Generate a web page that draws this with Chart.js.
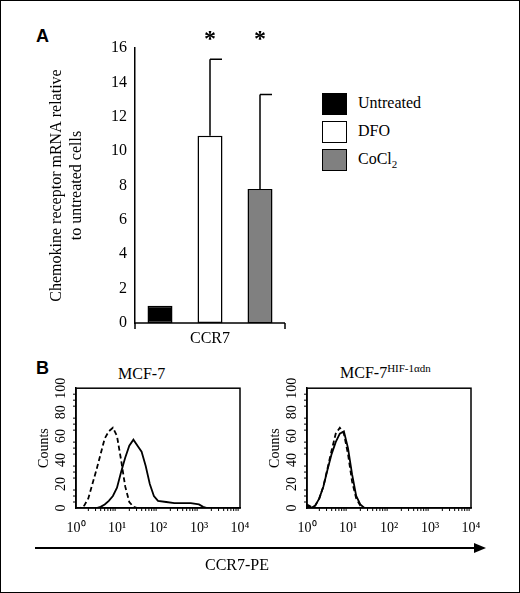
<!DOCTYPE html><html><head><meta charset="utf-8">
<script src="https://cdn.jsdelivr.net/npm/chart.js@4"></script>
<style>
body{margin:0;width:520px;height:593px;position:relative;background:#fff;font-family:"Liberation Serif",serif;overflow:hidden}
.abs{position:absolute}
#frame{left:0;top:0;width:518px;height:591px;border:1px solid #000}
.lg{position:absolute;left:322px;width:25px;height:22px;border:1px solid #000;box-sizing:border-box}
.lt{position:absolute;left:358px;font-size:16px}
</style></head><body>
<div id="frame" class="abs"></div>
<div class="abs" style="left:36px;top:26px;font:bold 18px 'Liberation Sans',Arial">A</div>
<div class="abs" style="left:36px;top:358px;font:bold 18px 'Liberation Sans',Arial">B</div>
<div class="abs" style="left:30px;top:20px;width:265px;height:340px"><canvas id="ca"></canvas></div>
<div class="lg" style="top:93px;background:#000"></div><div class="lt" style="top:94px">Untreated</div>
<div class="lg" style="top:121px;background:#fff"></div><div class="lt" style="top:122px">DFO</div>
<div class="lg" style="top:149px;background:#808080"></div><div class="lt" style="top:150px">CoCl<sub style="font-size:11px">2</sub></div>
<div class="abs" style="left:118px;top:365px;font-size:16px">MCF-7</div>
<div class="abs" style="left:340px;top:362px;font-size:16px">MCF-7<sup style="font-size:11px">HIF-1αdn</sup></div>
<div class="abs" style="left:30px;top:378px;width:220px;height:162px"><canvas id="cb1"></canvas></div>
<div class="abs" style="left:261px;top:378px;width:220px;height:162px"><canvas id="cb2"></canvas></div>
<svg class="abs" style="left:0;top:0" width="520" height="593"><line x1="35" y1="548" x2="478" y2="548" stroke="#000" stroke-width="2"/><polygon points="486,548 474,543 474,553" fill="#000"/></svg>
<div class="abs" style="left:205px;top:556px;font-size:16px">CCR7-PE</div>
<script>
const barLabels=['Untreated','DFO','CoCl2'];
const barValues=[1,10.9,7.8];
const barErrors=[0,4.45,5.5];
const barColors=['#000','#fff','#808080'];
const yTicksA=[0,2,4,6,8,10,12,14,16];
const decades=[0,1,2,3,4];
const histX_mcfCtrl=[0,0.1,0.2,0.3,0.4,0.5,0.6,0.7,0.8,0.9,1.0,1.1,1.2,1.3,1.4,1.5,2.0,3.0,4.0];
const histY_mcfCtrl=[0,0,2,8,20,32,45,58,64,67,60,40,18,5,1,0,0,0,0];
const histX_mcfCCR7=[0,0.5,0.6,0.7,0.8,0.9,1.0,1.1,1.2,1.3,1.4,1.5,1.6,1.7,1.8,1.9,2.0,2.2,2.4,2.6,2.8,3.0,3.1,3.2,4.0];
const histY_mcfCCR7=[0,0,1,3,6,10,17,30,42,52,57,52,47,35,20,10,6,5,4,4,4,3,1,0,0];
const histX_hifCtrl=[0,0.1,0.2,0.3,0.4,0.5,0.6,0.7,0.8,0.9,1.0,1.1,1.2,1.3,1.4,4.0];
const histY_hifCtrl=[3,1,2,8,18,33,48,62,67,62,45,22,8,2,0,0];
const histX_hifCCR7=[0,0.1,0.2,0.3,0.4,0.5,0.6,0.7,0.8,0.9,1.0,1.1,1.2,1.3,1.4,4.0];
const histY_hifCCR7=[2,0,2,8,18,32,45,55,62,64,50,28,10,3,0,0];
const countTicks=[0,20,40,60,80,100];
const FONT="'Liberation Serif',serif";
Chart.defaults.animation=false;Chart.defaults.responsive=true;Chart.defaults.maintainAspectRatio=false;
Chart.defaults.color='#000';

const errPlugin={id:'err',afterDatasetsDraw(c){const ctx=c.ctx,y=c.scales.y,x=c.scales.x;ctx.save();ctx.strokeStyle='#000';ctx.lineWidth=1.5;ctx.fillStyle='#000';ctx.font='bold 24px '+FONT;ctx.textAlign='center';ctx.textBaseline='alphabetic';
barValues.forEach((v,i)=>{if(!barErrors[i])return;const px=x.getPixelForValue(i),top=y.getPixelForValue(v+barErrors[i]);ctx.beginPath();ctx.moveTo(px,y.getPixelForValue(v));ctx.lineTo(px,top);ctx.moveTo(px,top);ctx.lineTo(px+12,top);ctx.stroke();ctx.fillText('*',px,y.top-2);});
ctx.lineWidth=1.5;ctx.beginPath();ctx.moveTo(x.left,y.bottom);ctx.lineTo(x.right,y.bottom);ctx.moveTo(x.left,y.bottom);ctx.lineTo(x.left,y.bottom+6);ctx.moveTo(x.right,y.bottom);ctx.lineTo(x.right,y.bottom+6);ctx.stroke();
ctx.font='16px '+FONT;ctx.textBaseline='top';ctx.fillText('CCR7',(x.left+x.right)/2,y.bottom+8);
ctx.save();ctx.translate(x.left-68,(y.top+y.bottom)/2);ctx.rotate(-Math.PI/2);ctx.textBaseline='middle';ctx.font='16px '+FONT;ctx.fillText('Chemokine receptor mRNA relative',0,-10);ctx.fillText('to untreated cells',0,10);ctx.restore();
ctx.restore();}};
new Chart(document.getElementById('ca'),{type:'bar',data:{labels:barLabels,datasets:[{data:barValues,backgroundColor:barColors,borderColor:'#000',borderWidth:1.5,borderSkipped:false,barPercentage:0.5,categoryPercentage:1}]},
options:{layout:{padding:{top:28,right:10}},plugins:{legend:{display:false},tooltip:{enabled:false}},
scales:{x:{grid:{display:false,drawTicks:false},border:{display:false},ticks:{display:false},afterFit(s){s.height=37}},
y:{min:0,max:16,afterBuildTicks(s){s.ticks=yTicksA.map(v=>({value:v}))},grid:{display:false,drawTicks:true,tickLength:6,tickColor:'#000'},border:{color:'#000',width:1.5},ticks:{font:{family:FONT,size:16},color:'#000',padding:2},afterFit(s){s.width=105}}}},plugins:[errPlugin]});

const sup={0:'⁰',1:'¹',2:'²',3:'³',4:'⁴'};
const histPlugin={id:'hist',afterDraw(c){const ctx=c.ctx,x=c.scales.x,y=c.scales.y;ctx.save();ctx.strokeStyle='#000';ctx.lineWidth=1;
ctx.beginPath();
for(let d=0;d<4;d++)for(let k=2;k<=9;k++){const px=x.getPixelForValue(d+Math.log10(k));ctx.moveTo(px,y.bottom);ctx.lineTo(px,y.bottom+3);}
for(let v=0;v<=100;v+=5){if(v%20===0)continue;const py=y.getPixelForValue(v);ctx.moveTo(x.left,py);ctx.lineTo(x.left-3,py);}
ctx.stroke();
ctx.fillStyle='#000';ctx.font='14px '+FONT;ctx.textAlign='center';ctx.textBaseline='middle';
countTicks.forEach(v=>{ctx.save();ctx.translate(x.left-15,y.getPixelForValue(v));ctx.rotate(-Math.PI/2);ctx.fillText(String(v),0,0);ctx.restore();});
ctx.save();ctx.translate(x.left-32,(y.top+y.bottom)/2);ctx.rotate(-Math.PI/2);ctx.fillText('Counts',0,0);ctx.restore();
decades.forEach(d=>{ctx.font='14px '+FONT;ctx.fillText('10'+sup[d],x.getPixelForValue(d),y.bottom+20);});
ctx.restore();}};
function hist(id,xa,ya,xb,yb){
new Chart(document.getElementById(id),{type:'scatter',data:{datasets:[
{data:xa.map((v,i)=>({x:v,y:ya[i]})),showLine:true,borderColor:'#000',borderWidth:1.8,borderDash:[5,3],pointRadius:0,tension:0},
{data:xb.map((v,i)=>({x:v,y:yb[i]})),showLine:true,borderColor:'#000',borderWidth:1.8,pointRadius:0,tension:0}]},
options:{layout:{padding:{top:7,right:10}},plugins:{legend:{display:false},tooltip:{enabled:false}},
scales:{x:{type:'linear',min:0,max:4,afterBuildTicks(s){s.ticks=decades.map(v=>({value:v}))},grid:{display:false,drawTicks:true,tickLength:6,tickColor:'#000'},border:{color:'#000',width:1.5},ticks:{callback:()=>' ',font:{size:13}},afterFit(s){s.height=32}},
y:{min:0,max:100,afterBuildTicks(s){s.ticks=countTicks.map(v=>({value:v}))},grid:{display:false,drawTicks:true,tickLength:6,tickColor:'#000'},border:{color:'#000',width:1.5},ticks:{callback:()=>''},afterFit(s){s.width=46}}}},
plugins:[histPlugin,{id:'box',afterDraw(c){const a=c.chartArea,ctx=c.ctx;ctx.save();ctx.strokeStyle='#000';ctx.lineWidth=1.5;ctx.strokeRect(a.left,a.top,a.right-a.left,a.bottom-a.top);ctx.restore();}}]});}
hist('cb1',histX_mcfCtrl,histY_mcfCtrl,histX_mcfCCR7,histY_mcfCCR7);
hist('cb2',histX_hifCtrl,histY_hifCtrl,histX_hifCCR7,histY_hifCCR7);
</script></body></html>
